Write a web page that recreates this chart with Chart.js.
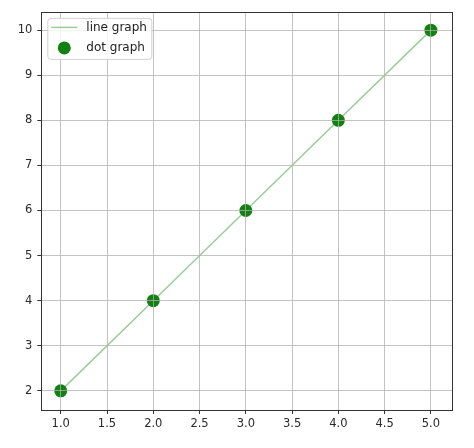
<!DOCTYPE html>
<html>
<head>
<meta charset="utf-8">
<script src="https://cdn.jsdelivr.net/npm/chart.js@4"></script>
<style>
  html, body { margin: 0; padding: 0; background: #fff; }
  #grafico { display: block; }
</style>
</head>
<body>
<canvas id="grafico" width="474" height="448"></canvas>
<script>
// dados do gráfico
const valoresX = [1, 2, 3, 4, 5];
const valoresY = [2, 4, 6, 8, 10];
const ticksX = [1.0, 1.5, 2.0, 2.5, 3.0, 3.5, 4.0, 4.5, 5.0];
const ticksY = [2, 3, 4, 5, 6, 7, 8, 9, 10];
const legendas = ['line graph', 'dot graph'];

const corLinha = 'rgba(0, 128, 0, 0.4)';
const corPonto = 'rgb(18, 128, 18)';
const fonte = { family: 'DejaVu Sans', size: 11.5 };

const pontos = valoresX.map((x, i) => ({ x: x, y: valoresY[i] }));

// moldura completa (4 lados) e legenda dentro da área do gráfico
const molduraELegenda = {
    id: 'molduraELegenda',
    afterDraw(chart) {
        const ctx = chart.ctx;
        const a = chart.chartArea;
        ctx.save();
        ctx.strokeStyle = '#333';
        ctx.lineWidth = 1;
        ctx.strokeRect(Math.round(a.left) + 0.5, Math.round(a.top) + 0.5,
            Math.round(a.right - a.left), Math.round(a.bottom - a.top));

        // caixa da legenda
        const lx = a.left + 6, ly = a.top + 6, lw = 104, lh = 41;
        ctx.fillStyle = 'rgba(255,255,255,0.8)';
        ctx.strokeStyle = '#d0d0d0';
        ctx.beginPath();
        ctx.roundRect(lx + 0.5, ly + 0.5, lw, lh, 3);
        ctx.fill();
        ctx.stroke();

        // amostra da linha
        ctx.strokeStyle = corLinha;
        ctx.lineWidth = 1.5;
        ctx.beginPath();
        ctx.moveTo(lx + 4, ly + 9.5);
        ctx.lineTo(lx + 30, ly + 9.5);
        ctx.stroke();

        // amostra do ponto
        ctx.fillStyle = corPonto;
        ctx.beginPath();
        ctx.arc(lx + 17, ly + 30, 6.5, 0, Math.PI * 2);
        ctx.fill();

        ctx.fillStyle = '#222';
        ctx.font = '12px "DejaVu Sans"';
        ctx.textBaseline = 'middle';
        ctx.fillText(legendas[0], lx + 39, ly + 9.5);
        ctx.fillText(legendas[1], lx + 39, ly + 30);
        ctx.restore();
    }
};

new Chart(document.getElementById('grafico'), {
    type: 'scatter',
    data: {
        datasets: [
            {
                label: legendas[0],
                data: pontos,
                showLine: true,
                borderColor: corLinha,
                borderWidth: 1.5,
                pointRadius: 0,
                order: 2
            },
            {
                label: legendas[1],
                data: pontos,
                showLine: false,
                backgroundColor: corPonto,
                borderColor: corPonto,
                borderWidth: 0,
                pointRadius: 6.5,
                pointHoverRadius: 6.5,
                order: 1
            }
        ]
    },
    options: {
        responsive: false,
        animation: false,
        devicePixelRatio: 1,
        layout: { padding: { top: 11, right: 22, left: 0, bottom: 0 } },
        plugins: {
            legend: { display: false },
            tooltip: { enabled: false }
        },
        scales: {
            x: {
                type: 'linear',
                min: 0.79,
                max: 5.228,
                afterBuildTicks: (scale) => { scale.ticks = ticksX.map(v => ({ value: v })); },
                afterFit: (scale) => { scale.height = 38; },
                ticks: {
                    font: fonte,
                    color: '#2a2a2a',
                    padding: 3,
                    maxRotation: 0,
                    autoSkip: false,
                    callback: (v) => Number(v).toFixed(1)
                },
                grid: { color: 'rgba(176,176,176,0.75)', lineWidth: 1, tickLength: 4, tickColor: '#333', z: 1 },
                border: { display: false }
            },
            y: {
                type: 'linear',
                min: 1.575,
                max: 10.405,
                afterBuildTicks: (scale) => { scale.ticks = ticksY.map(v => ({ value: v })); },
                afterFit: (scale) => { scale.width = 41.3; },
                ticks: {
                    font: fonte,
                    color: '#2a2a2a',
                    padding: 5,
                    autoSkip: false,
                    callback: (v) => String(v)
                },
                grid: { color: 'rgba(176,176,176,0.75)', lineWidth: 1, tickLength: 4, tickColor: '#333', z: 1 },
                border: { display: false }
            }
        }
    },
    plugins: [molduraELegenda]
});
</script>
</body>
</html>
